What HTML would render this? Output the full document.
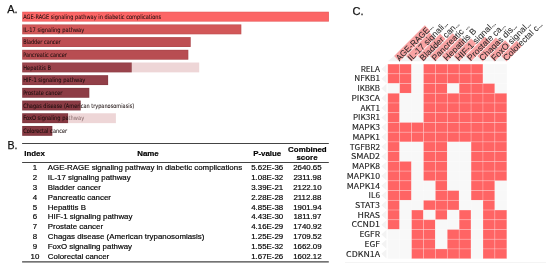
<!DOCTYPE html><html><head><meta charset="utf-8"><style>html,body{margin:0;padding:0;background:#fff;width:550px;height:271px;overflow:hidden}svg{display:block}</style></head><body>
<svg width="550" height="271" viewBox="0 0 550 271">
<g font-family="Liberation Sans, Arial, sans-serif" fill="#111" stroke="#111" stroke-width="0.25">
<text x="7.2" y="13.4" font-size="11">A.</text>
<text x="7.4" y="148.9" font-size="10.6">B.</text>
<text x="352.6" y="14.9" font-size="11">C.</text>
</g>
<rect x="22.2" y="11.75" width="306.70" height="9.85" fill="#fc6565"/>
<rect x="22.55" y="12.10" width="306.00" height="9.15" fill="none" stroke="#000" stroke-opacity="0.08" stroke-width="0.7"/>
<rect x="22.2" y="24.44" width="219.10" height="9.85" fill="#d25758"/>
<rect x="22.55" y="24.79" width="218.40" height="9.15" fill="none" stroke="#000" stroke-opacity="0.08" stroke-width="0.7"/>
<rect x="22.2" y="37.13" width="168.50" height="9.85" fill="#be4f53"/>
<rect x="22.55" y="37.48" width="167.80" height="9.15" fill="none" stroke="#000" stroke-opacity="0.08" stroke-width="0.7"/>
<rect x="22.2" y="49.82" width="166.10" height="9.85" fill="#b84d52"/>
<rect x="22.55" y="50.17" width="165.40" height="9.15" fill="none" stroke="#000" stroke-opacity="0.08" stroke-width="0.7"/>
<rect x="22.2" y="62.51" width="109.60" height="9.85" fill="#9b444c"/>
<rect x="22.55" y="62.86" width="108.90" height="9.15" fill="none" stroke="#000" stroke-opacity="0.08" stroke-width="0.7"/>
<rect x="22.2" y="75.20" width="85.90" height="9.85" fill="#923f48"/>
<rect x="22.55" y="75.55" width="85.20" height="9.15" fill="none" stroke="#000" stroke-opacity="0.08" stroke-width="0.7"/>
<rect x="22.2" y="87.89" width="67.10" height="9.85" fill="#8d3c45"/>
<rect x="22.55" y="88.24" width="66.40" height="9.15" fill="none" stroke="#000" stroke-opacity="0.08" stroke-width="0.7"/>
<rect x="22.2" y="100.58" width="58.50" height="9.85" fill="#8a3b44"/>
<rect x="22.55" y="100.93" width="57.80" height="9.15" fill="none" stroke="#000" stroke-opacity="0.08" stroke-width="0.7"/>
<rect x="22.2" y="113.27" width="45.90" height="9.85" fill="#883a43"/>
<rect x="22.55" y="113.62" width="45.20" height="9.15" fill="none" stroke="#000" stroke-opacity="0.08" stroke-width="0.7"/>
<rect x="22.2" y="125.96" width="30.10" height="9.85" fill="#853942"/>
<rect x="22.55" y="126.31" width="29.40" height="9.15" fill="none" stroke="#000" stroke-opacity="0.08" stroke-width="0.7"/>
<g font-family="DejaVu Sans Condensed, DejaVu Sans, sans-serif" font-size="6.1" fill="#1a0d0d" stroke="#1a0d0d" stroke-width="0.05">
<text x="23.2" y="18.85" textLength="137.9" lengthAdjust="spacingAndGlyphs">AGE-RAGE signaling pathway in diabetic complications</text>
<text x="23.2" y="31.54" textLength="61.1" lengthAdjust="spacingAndGlyphs">IL-17 signaling pathway</text>
<text x="23.2" y="44.23" textLength="37.4" lengthAdjust="spacingAndGlyphs">Bladder cancer</text>
<text x="23.2" y="56.92" textLength="43.7" lengthAdjust="spacingAndGlyphs">Pancreatic cancer</text>
<text x="23.2" y="69.61" textLength="27.9" lengthAdjust="spacingAndGlyphs">Hepatitis B</text>
<text x="23.2" y="82.30" textLength="62.2" lengthAdjust="spacingAndGlyphs">HIF-1 signaling pathway</text>
<text x="23.2" y="94.99" textLength="39.1" lengthAdjust="spacingAndGlyphs">Prostate cancer</text>
<text x="23.2" y="107.68" textLength="111.0" lengthAdjust="spacingAndGlyphs">Chagas disease (American trypanosomiasis)</text>
<text x="23.2" y="120.37" textLength="61.0" lengthAdjust="spacingAndGlyphs">FoxO signaling pathway</text>
<text x="23.2" y="133.06" textLength="43.9" lengthAdjust="spacingAndGlyphs">Colorectal cancer</text>
</g>
<rect x="131.80" y="62.51" width="67.40" height="9.85" fill="#e0b4b6" fill-opacity="0.55"/>
<rect x="68.10" y="113.27" width="47.80" height="9.85" fill="#e0b4b6" fill-opacity="0.55"/>
<g stroke="#444" stroke-width="1.2">
<line x1="22.1" y1="143.5" x2="328.8" y2="143.5"/>
<line x1="22.1" y1="162.5" x2="328.8" y2="162.5"/>
<line x1="22.1" y1="261.9" x2="328.8" y2="261.9"/>
</g>
<g font-family="Liberation Sans, Arial, sans-serif" font-size="7.9" fill="#000" stroke="#000" stroke-width="0.18">
<g font-weight="bold">
<text x="34.6" y="155.5" text-anchor="middle">Index</text>
<text x="148" y="155.5" text-anchor="middle">Name</text>
<text x="267.2" y="155.5" text-anchor="middle">P-value</text>
<text x="307.4" y="151.5" text-anchor="middle">Combined</text>
<text x="307.0" y="160.3" text-anchor="middle">score</text>
</g>
<text x="35" y="170.35" text-anchor="middle">1</text>
<text x="47.8" y="170.35">AGE-RAGE signaling pathway in diabetic complications</text>
<text x="267.2" y="170.35" text-anchor="middle">5.62E-36</text>
<text x="307.4" y="170.35" text-anchor="middle">2640.65</text>
<text x="35" y="180.17" text-anchor="middle">2</text>
<text x="47.8" y="180.17">IL-17 signaling pathway</text>
<text x="267.2" y="180.17" text-anchor="middle">1.08E-32</text>
<text x="307.4" y="180.17" text-anchor="middle">2311.98</text>
<text x="35" y="189.99" text-anchor="middle">3</text>
<text x="47.8" y="189.99">Bladder cancer</text>
<text x="267.2" y="189.99" text-anchor="middle">3.39E-21</text>
<text x="307.4" y="189.99" text-anchor="middle">2122.10</text>
<text x="35" y="199.81" text-anchor="middle">4</text>
<text x="47.8" y="199.81">Pancreatic cancer</text>
<text x="267.2" y="199.81" text-anchor="middle">2.28E-28</text>
<text x="307.4" y="199.81" text-anchor="middle">2112.88</text>
<text x="35" y="209.63" text-anchor="middle">5</text>
<text x="47.8" y="209.63">Hepatitis B</text>
<text x="267.2" y="209.63" text-anchor="middle">4.85E-38</text>
<text x="307.4" y="209.63" text-anchor="middle">1901.94</text>
<text x="35" y="219.45" text-anchor="middle">6</text>
<text x="47.8" y="219.45">HIF-1 signaling pathway</text>
<text x="267.2" y="219.45" text-anchor="middle">4.43E-30</text>
<text x="307.4" y="219.45" text-anchor="middle">1811.97</text>
<text x="35" y="229.27" text-anchor="middle">7</text>
<text x="47.8" y="229.27">Prostate cancer</text>
<text x="267.2" y="229.27" text-anchor="middle">4.16E-29</text>
<text x="307.4" y="229.27" text-anchor="middle">1740.92</text>
<text x="35" y="239.09" text-anchor="middle">8</text>
<text x="47.8" y="239.09">Chagas disease (American trypanosomiasis)</text>
<text x="267.2" y="239.09" text-anchor="middle">1.25E-29</text>
<text x="307.4" y="239.09" text-anchor="middle">1709.52</text>
<text x="35" y="248.91" text-anchor="middle">9</text>
<text x="47.8" y="248.91">FoxO signaling pathway</text>
<text x="267.2" y="248.91" text-anchor="middle">1.55E-32</text>
<text x="307.4" y="248.91" text-anchor="middle">1662.09</text>
<text x="35" y="258.73" text-anchor="middle">10</text>
<text x="47.8" y="258.73">Colorectal cancer</text>
<text x="267.2" y="258.73" text-anchor="middle">1.67E-26</text>
<text x="307.4" y="258.73" text-anchor="middle">1602.12</text>
</g>
<rect x="387.8" y="64.1" width="119.00" height="194.60" fill="#f8f8f8"/>
<g stroke="#fff" stroke-opacity="0.3" stroke-width="0.7">
<rect x="387.80" y="64.10" width="11.90" height="9.73" fill="#ff6464"/>
<rect x="399.70" y="64.10" width="11.90" height="9.73" fill="#ff6464"/>
<rect x="411.60" y="64.10" width="11.90" height="9.73" fill="#f8f8f8"/>
<rect x="423.50" y="64.10" width="11.90" height="9.73" fill="#ff6464"/>
<rect x="435.40" y="64.10" width="11.90" height="9.73" fill="#ff6464"/>
<rect x="447.30" y="64.10" width="11.90" height="9.73" fill="#ff6464"/>
<rect x="459.20" y="64.10" width="11.90" height="9.73" fill="#ff6464"/>
<rect x="471.10" y="64.10" width="11.90" height="9.73" fill="#ff6464"/>
<rect x="483.00" y="64.10" width="11.90" height="9.73" fill="#f8f8f8"/>
<rect x="494.90" y="64.10" width="11.90" height="9.73" fill="#f8f8f8"/>
<rect x="387.80" y="73.83" width="11.90" height="9.73" fill="#ff6464"/>
<rect x="399.70" y="73.83" width="11.90" height="9.73" fill="#ff6464"/>
<rect x="411.60" y="73.83" width="11.90" height="9.73" fill="#f8f8f8"/>
<rect x="423.50" y="73.83" width="11.90" height="9.73" fill="#ff6464"/>
<rect x="435.40" y="73.83" width="11.90" height="9.73" fill="#ff6464"/>
<rect x="447.30" y="73.83" width="11.90" height="9.73" fill="#ff6464"/>
<rect x="459.20" y="73.83" width="11.90" height="9.73" fill="#ff6464"/>
<rect x="471.10" y="73.83" width="11.90" height="9.73" fill="#ff6464"/>
<rect x="483.00" y="73.83" width="11.90" height="9.73" fill="#f8f8f8"/>
<rect x="494.90" y="73.83" width="11.90" height="9.73" fill="#f8f8f8"/>
<rect x="387.80" y="83.56" width="11.90" height="9.73" fill="#f8f8f8"/>
<rect x="399.70" y="83.56" width="11.90" height="9.73" fill="#ff6464"/>
<rect x="411.60" y="83.56" width="11.90" height="9.73" fill="#f8f8f8"/>
<rect x="423.50" y="83.56" width="11.90" height="9.73" fill="#ff6464"/>
<rect x="435.40" y="83.56" width="11.90" height="9.73" fill="#ff6464"/>
<rect x="447.30" y="83.56" width="11.90" height="9.73" fill="#f8f8f8"/>
<rect x="459.20" y="83.56" width="11.90" height="9.73" fill="#ff6464"/>
<rect x="471.10" y="83.56" width="11.90" height="9.73" fill="#ff6464"/>
<rect x="483.00" y="83.56" width="11.90" height="9.73" fill="#ff6464"/>
<rect x="494.90" y="83.56" width="11.90" height="9.73" fill="#f8f8f8"/>
<rect x="387.80" y="93.29" width="11.90" height="9.73" fill="#ff6464"/>
<rect x="399.70" y="93.29" width="11.90" height="9.73" fill="#f8f8f8"/>
<rect x="411.60" y="93.29" width="11.90" height="9.73" fill="#f8f8f8"/>
<rect x="423.50" y="93.29" width="11.90" height="9.73" fill="#ff6464"/>
<rect x="435.40" y="93.29" width="11.90" height="9.73" fill="#ff6464"/>
<rect x="447.30" y="93.29" width="11.90" height="9.73" fill="#ff6464"/>
<rect x="459.20" y="93.29" width="11.90" height="9.73" fill="#ff6464"/>
<rect x="471.10" y="93.29" width="11.90" height="9.73" fill="#ff6464"/>
<rect x="483.00" y="93.29" width="11.90" height="9.73" fill="#ff6464"/>
<rect x="494.90" y="93.29" width="11.90" height="9.73" fill="#ff6464"/>
<rect x="387.80" y="103.02" width="11.90" height="9.73" fill="#ff6464"/>
<rect x="399.70" y="103.02" width="11.90" height="9.73" fill="#f8f8f8"/>
<rect x="411.60" y="103.02" width="11.90" height="9.73" fill="#f8f8f8"/>
<rect x="423.50" y="103.02" width="11.90" height="9.73" fill="#ff6464"/>
<rect x="435.40" y="103.02" width="11.90" height="9.73" fill="#ff6464"/>
<rect x="447.30" y="103.02" width="11.90" height="9.73" fill="#ff6464"/>
<rect x="459.20" y="103.02" width="11.90" height="9.73" fill="#ff6464"/>
<rect x="471.10" y="103.02" width="11.90" height="9.73" fill="#ff6464"/>
<rect x="483.00" y="103.02" width="11.90" height="9.73" fill="#ff6464"/>
<rect x="494.90" y="103.02" width="11.90" height="9.73" fill="#ff6464"/>
<rect x="387.80" y="112.75" width="11.90" height="9.73" fill="#ff6464"/>
<rect x="399.70" y="112.75" width="11.90" height="9.73" fill="#f8f8f8"/>
<rect x="411.60" y="112.75" width="11.90" height="9.73" fill="#f8f8f8"/>
<rect x="423.50" y="112.75" width="11.90" height="9.73" fill="#ff6464"/>
<rect x="435.40" y="112.75" width="11.90" height="9.73" fill="#ff6464"/>
<rect x="447.30" y="112.75" width="11.90" height="9.73" fill="#ff6464"/>
<rect x="459.20" y="112.75" width="11.90" height="9.73" fill="#ff6464"/>
<rect x="471.10" y="112.75" width="11.90" height="9.73" fill="#ff6464"/>
<rect x="483.00" y="112.75" width="11.90" height="9.73" fill="#ff6464"/>
<rect x="494.90" y="112.75" width="11.90" height="9.73" fill="#ff6464"/>
<rect x="387.80" y="122.48" width="11.90" height="9.73" fill="#ff6464"/>
<rect x="399.70" y="122.48" width="11.90" height="9.73" fill="#ff6464"/>
<rect x="411.60" y="122.48" width="11.90" height="9.73" fill="#ff6464"/>
<rect x="423.50" y="122.48" width="11.90" height="9.73" fill="#ff6464"/>
<rect x="435.40" y="122.48" width="11.90" height="9.73" fill="#ff6464"/>
<rect x="447.30" y="122.48" width="11.90" height="9.73" fill="#ff6464"/>
<rect x="459.20" y="122.48" width="11.90" height="9.73" fill="#ff6464"/>
<rect x="471.10" y="122.48" width="11.90" height="9.73" fill="#ff6464"/>
<rect x="483.00" y="122.48" width="11.90" height="9.73" fill="#ff6464"/>
<rect x="494.90" y="122.48" width="11.90" height="9.73" fill="#ff6464"/>
<rect x="387.80" y="132.21" width="11.90" height="9.73" fill="#ff6464"/>
<rect x="399.70" y="132.21" width="11.90" height="9.73" fill="#ff6464"/>
<rect x="411.60" y="132.21" width="11.90" height="9.73" fill="#ff6464"/>
<rect x="423.50" y="132.21" width="11.90" height="9.73" fill="#ff6464"/>
<rect x="435.40" y="132.21" width="11.90" height="9.73" fill="#ff6464"/>
<rect x="447.30" y="132.21" width="11.90" height="9.73" fill="#ff6464"/>
<rect x="459.20" y="132.21" width="11.90" height="9.73" fill="#ff6464"/>
<rect x="471.10" y="132.21" width="11.90" height="9.73" fill="#ff6464"/>
<rect x="483.00" y="132.21" width="11.90" height="9.73" fill="#ff6464"/>
<rect x="494.90" y="132.21" width="11.90" height="9.73" fill="#ff6464"/>
<rect x="387.80" y="141.94" width="11.90" height="9.73" fill="#ff6464"/>
<rect x="399.70" y="141.94" width="11.90" height="9.73" fill="#f8f8f8"/>
<rect x="411.60" y="141.94" width="11.90" height="9.73" fill="#f8f8f8"/>
<rect x="423.50" y="141.94" width="11.90" height="9.73" fill="#ff6464"/>
<rect x="435.40" y="141.94" width="11.90" height="9.73" fill="#ff6464"/>
<rect x="447.30" y="141.94" width="11.90" height="9.73" fill="#f8f8f8"/>
<rect x="459.20" y="141.94" width="11.90" height="9.73" fill="#f8f8f8"/>
<rect x="471.10" y="141.94" width="11.90" height="9.73" fill="#ff6464"/>
<rect x="483.00" y="141.94" width="11.90" height="9.73" fill="#ff6464"/>
<rect x="494.90" y="141.94" width="11.90" height="9.73" fill="#ff6464"/>
<rect x="387.80" y="151.67" width="11.90" height="9.73" fill="#ff6464"/>
<rect x="399.70" y="151.67" width="11.90" height="9.73" fill="#f8f8f8"/>
<rect x="411.60" y="151.67" width="11.90" height="9.73" fill="#f8f8f8"/>
<rect x="423.50" y="151.67" width="11.90" height="9.73" fill="#ff6464"/>
<rect x="435.40" y="151.67" width="11.90" height="9.73" fill="#ff6464"/>
<rect x="447.30" y="151.67" width="11.90" height="9.73" fill="#f8f8f8"/>
<rect x="459.20" y="151.67" width="11.90" height="9.73" fill="#f8f8f8"/>
<rect x="471.10" y="151.67" width="11.90" height="9.73" fill="#ff6464"/>
<rect x="483.00" y="151.67" width="11.90" height="9.73" fill="#ff6464"/>
<rect x="494.90" y="151.67" width="11.90" height="9.73" fill="#ff6464"/>
<rect x="387.80" y="161.40" width="11.90" height="9.73" fill="#ff6464"/>
<rect x="399.70" y="161.40" width="11.90" height="9.73" fill="#ff6464"/>
<rect x="411.60" y="161.40" width="11.90" height="9.73" fill="#f8f8f8"/>
<rect x="423.50" y="161.40" width="11.90" height="9.73" fill="#ff6464"/>
<rect x="435.40" y="161.40" width="11.90" height="9.73" fill="#ff6464"/>
<rect x="447.30" y="161.40" width="11.90" height="9.73" fill="#f8f8f8"/>
<rect x="459.20" y="161.40" width="11.90" height="9.73" fill="#f8f8f8"/>
<rect x="471.10" y="161.40" width="11.90" height="9.73" fill="#ff6464"/>
<rect x="483.00" y="161.40" width="11.90" height="9.73" fill="#ff6464"/>
<rect x="494.90" y="161.40" width="11.90" height="9.73" fill="#ff6464"/>
<rect x="387.80" y="171.13" width="11.90" height="9.73" fill="#ff6464"/>
<rect x="399.70" y="171.13" width="11.90" height="9.73" fill="#ff6464"/>
<rect x="411.60" y="171.13" width="11.90" height="9.73" fill="#f8f8f8"/>
<rect x="423.50" y="171.13" width="11.90" height="9.73" fill="#ff6464"/>
<rect x="435.40" y="171.13" width="11.90" height="9.73" fill="#ff6464"/>
<rect x="447.30" y="171.13" width="11.90" height="9.73" fill="#f8f8f8"/>
<rect x="459.20" y="171.13" width="11.90" height="9.73" fill="#f8f8f8"/>
<rect x="471.10" y="171.13" width="11.90" height="9.73" fill="#ff6464"/>
<rect x="483.00" y="171.13" width="11.90" height="9.73" fill="#ff6464"/>
<rect x="494.90" y="171.13" width="11.90" height="9.73" fill="#ff6464"/>
<rect x="387.80" y="180.86" width="11.90" height="9.73" fill="#ff6464"/>
<rect x="399.70" y="180.86" width="11.90" height="9.73" fill="#ff6464"/>
<rect x="411.60" y="180.86" width="11.90" height="9.73" fill="#f8f8f8"/>
<rect x="423.50" y="180.86" width="11.90" height="9.73" fill="#f8f8f8"/>
<rect x="435.40" y="180.86" width="11.90" height="9.73" fill="#ff6464"/>
<rect x="447.30" y="180.86" width="11.90" height="9.73" fill="#f8f8f8"/>
<rect x="459.20" y="180.86" width="11.90" height="9.73" fill="#f8f8f8"/>
<rect x="471.10" y="180.86" width="11.90" height="9.73" fill="#ff6464"/>
<rect x="483.00" y="180.86" width="11.90" height="9.73" fill="#ff6464"/>
<rect x="494.90" y="180.86" width="11.90" height="9.73" fill="#f8f8f8"/>
<rect x="387.80" y="190.59" width="11.90" height="9.73" fill="#ff6464"/>
<rect x="399.70" y="190.59" width="11.90" height="9.73" fill="#ff6464"/>
<rect x="411.60" y="190.59" width="11.90" height="9.73" fill="#f8f8f8"/>
<rect x="423.50" y="190.59" width="11.90" height="9.73" fill="#f8f8f8"/>
<rect x="435.40" y="190.59" width="11.90" height="9.73" fill="#ff6464"/>
<rect x="447.30" y="190.59" width="11.90" height="9.73" fill="#ff6464"/>
<rect x="459.20" y="190.59" width="11.90" height="9.73" fill="#f8f8f8"/>
<rect x="471.10" y="190.59" width="11.90" height="9.73" fill="#ff6464"/>
<rect x="483.00" y="190.59" width="11.90" height="9.73" fill="#ff6464"/>
<rect x="494.90" y="190.59" width="11.90" height="9.73" fill="#f8f8f8"/>
<rect x="387.80" y="200.32" width="11.90" height="9.73" fill="#ff6464"/>
<rect x="399.70" y="200.32" width="11.90" height="9.73" fill="#f8f8f8"/>
<rect x="411.60" y="200.32" width="11.90" height="9.73" fill="#f8f8f8"/>
<rect x="423.50" y="200.32" width="11.90" height="9.73" fill="#ff6464"/>
<rect x="435.40" y="200.32" width="11.90" height="9.73" fill="#ff6464"/>
<rect x="447.30" y="200.32" width="11.90" height="9.73" fill="#ff6464"/>
<rect x="459.20" y="200.32" width="11.90" height="9.73" fill="#f8f8f8"/>
<rect x="471.10" y="200.32" width="11.90" height="9.73" fill="#f8f8f8"/>
<rect x="483.00" y="200.32" width="11.90" height="9.73" fill="#ff6464"/>
<rect x="494.90" y="200.32" width="11.90" height="9.73" fill="#f8f8f8"/>
<rect x="387.80" y="210.05" width="11.90" height="9.73" fill="#ff6464"/>
<rect x="399.70" y="210.05" width="11.90" height="9.73" fill="#f8f8f8"/>
<rect x="411.60" y="210.05" width="11.90" height="9.73" fill="#ff6464"/>
<rect x="423.50" y="210.05" width="11.90" height="9.73" fill="#f8f8f8"/>
<rect x="435.40" y="210.05" width="11.90" height="9.73" fill="#ff6464"/>
<rect x="447.30" y="210.05" width="11.90" height="9.73" fill="#f8f8f8"/>
<rect x="459.20" y="210.05" width="11.90" height="9.73" fill="#ff6464"/>
<rect x="471.10" y="210.05" width="11.90" height="9.73" fill="#f8f8f8"/>
<rect x="483.00" y="210.05" width="11.90" height="9.73" fill="#ff6464"/>
<rect x="494.90" y="210.05" width="11.90" height="9.73" fill="#ff6464"/>
<rect x="387.80" y="219.78" width="11.90" height="9.73" fill="#ff6464"/>
<rect x="399.70" y="219.78" width="11.90" height="9.73" fill="#f8f8f8"/>
<rect x="411.60" y="219.78" width="11.90" height="9.73" fill="#ff6464"/>
<rect x="423.50" y="219.78" width="11.90" height="9.73" fill="#ff6464"/>
<rect x="435.40" y="219.78" width="11.90" height="9.73" fill="#f8f8f8"/>
<rect x="447.30" y="219.78" width="11.90" height="9.73" fill="#f8f8f8"/>
<rect x="459.20" y="219.78" width="11.90" height="9.73" fill="#ff6464"/>
<rect x="471.10" y="219.78" width="11.90" height="9.73" fill="#f8f8f8"/>
<rect x="483.00" y="219.78" width="11.90" height="9.73" fill="#ff6464"/>
<rect x="494.90" y="219.78" width="11.90" height="9.73" fill="#ff6464"/>
<rect x="387.80" y="229.51" width="11.90" height="9.73" fill="#f8f8f8"/>
<rect x="399.70" y="229.51" width="11.90" height="9.73" fill="#f8f8f8"/>
<rect x="411.60" y="229.51" width="11.90" height="9.73" fill="#ff6464"/>
<rect x="423.50" y="229.51" width="11.90" height="9.73" fill="#ff6464"/>
<rect x="435.40" y="229.51" width="11.90" height="9.73" fill="#f8f8f8"/>
<rect x="447.30" y="229.51" width="11.90" height="9.73" fill="#ff6464"/>
<rect x="459.20" y="229.51" width="11.90" height="9.73" fill="#ff6464"/>
<rect x="471.10" y="229.51" width="11.90" height="9.73" fill="#f8f8f8"/>
<rect x="483.00" y="229.51" width="11.90" height="9.73" fill="#ff6464"/>
<rect x="494.90" y="229.51" width="11.90" height="9.73" fill="#ff6464"/>
<rect x="387.80" y="239.24" width="11.90" height="9.73" fill="#f8f8f8"/>
<rect x="399.70" y="239.24" width="11.90" height="9.73" fill="#f8f8f8"/>
<rect x="411.60" y="239.24" width="11.90" height="9.73" fill="#ff6464"/>
<rect x="423.50" y="239.24" width="11.90" height="9.73" fill="#ff6464"/>
<rect x="435.40" y="239.24" width="11.90" height="9.73" fill="#f8f8f8"/>
<rect x="447.30" y="239.24" width="11.90" height="9.73" fill="#ff6464"/>
<rect x="459.20" y="239.24" width="11.90" height="9.73" fill="#ff6464"/>
<rect x="471.10" y="239.24" width="11.90" height="9.73" fill="#f8f8f8"/>
<rect x="483.00" y="239.24" width="11.90" height="9.73" fill="#ff6464"/>
<rect x="494.90" y="239.24" width="11.90" height="9.73" fill="#ff6464"/>
<rect x="387.80" y="248.97" width="11.90" height="9.73" fill="#f8f8f8"/>
<rect x="399.70" y="248.97" width="11.90" height="9.73" fill="#f8f8f8"/>
<rect x="411.60" y="248.97" width="11.90" height="9.73" fill="#ff6464"/>
<rect x="423.50" y="248.97" width="11.90" height="9.73" fill="#ff6464"/>
<rect x="435.40" y="248.97" width="11.90" height="9.73" fill="#ff6464"/>
<rect x="447.30" y="248.97" width="11.90" height="9.73" fill="#ff6464"/>
<rect x="459.20" y="248.97" width="11.90" height="9.73" fill="#ff6464"/>
<rect x="471.10" y="248.97" width="11.90" height="9.73" fill="#f8f8f8"/>
<rect x="483.00" y="248.97" width="11.90" height="9.73" fill="#ff6464"/>
<rect x="494.90" y="248.97" width="11.90" height="9.73" fill="#ff6464"/>
</g>
<g fill="#f3f3f3">
<path d="M386.50,64.40 L381.40,68.96 L386.50,73.53 Z"/>
<path d="M386.50,74.13 L381.40,78.69 L386.50,83.26 Z"/>
<path d="M386.50,83.86 L381.40,88.42 L386.50,92.99 Z"/>
<path d="M386.50,93.59 L381.40,98.16 L386.50,102.72 Z"/>
<path d="M386.50,103.32 L381.40,107.88 L386.50,112.45 Z"/>
<path d="M386.50,113.05 L381.40,117.61 L386.50,122.18 Z"/>
<path d="M386.50,122.78 L381.40,127.34 L386.50,131.91 Z"/>
<path d="M386.50,132.51 L381.40,137.07 L386.50,141.64 Z"/>
<path d="M386.50,142.24 L381.40,146.81 L386.50,151.37 Z"/>
<path d="M386.50,151.97 L381.40,156.53 L386.50,161.10 Z"/>
<path d="M386.50,161.70 L381.40,166.26 L386.50,170.83 Z"/>
<path d="M386.50,171.43 L381.40,176.00 L386.50,180.56 Z"/>
<path d="M386.50,181.16 L381.40,185.72 L386.50,190.29 Z"/>
<path d="M386.50,190.89 L381.40,195.46 L386.50,200.02 Z"/>
<path d="M386.50,200.62 L381.40,205.19 L386.50,209.75 Z"/>
<path d="M386.50,210.35 L381.40,214.91 L386.50,219.48 Z"/>
<path d="M386.50,220.08 L381.40,224.65 L386.50,229.21 Z"/>
<path d="M386.50,229.81 L381.40,234.38 L386.50,238.94 Z"/>
<path d="M386.50,239.54 L381.40,244.10 L386.50,248.67 Z"/>
<path d="M386.50,249.27 L381.40,253.84 L386.50,258.40 Z"/>
</g>
<g font-family="Noto Sans CJK SC, sans-serif" font-size="7.7" fill="#222" stroke="#222" stroke-width="0.12" text-anchor="end">
<text x="380.0" y="71.76" textLength="19.3" lengthAdjust="spacingAndGlyphs">RELA</text>
<text x="380.0" y="81.49" textLength="25.7" lengthAdjust="spacingAndGlyphs">NFKB1</text>
<text x="380.0" y="91.22" textLength="22.6" lengthAdjust="spacingAndGlyphs">IKBKB</text>
<text x="380.0" y="100.95" textLength="28.6" lengthAdjust="spacingAndGlyphs">PIK3CA</text>
<text x="380.0" y="110.68" textLength="19.6" lengthAdjust="spacingAndGlyphs">AKT1</text>
<text x="380.0" y="120.41" textLength="27.1" lengthAdjust="spacingAndGlyphs">PIK3R1</text>
<text x="380.0" y="130.15" textLength="28.0" lengthAdjust="spacingAndGlyphs">MAPK3</text>
<text x="380.0" y="139.88" textLength="27.5" lengthAdjust="spacingAndGlyphs">MAPK1</text>
<text x="380.0" y="149.61" textLength="30.2" lengthAdjust="spacingAndGlyphs">TGFBR2</text>
<text x="380.0" y="159.34" textLength="29.1" lengthAdjust="spacingAndGlyphs">SMAD2</text>
<text x="380.0" y="169.06" textLength="28.0" lengthAdjust="spacingAndGlyphs">MAPK8</text>
<text x="380.0" y="178.80" textLength="33.2" lengthAdjust="spacingAndGlyphs">MAPK10</text>
<text x="380.0" y="188.53" textLength="33.2" lengthAdjust="spacingAndGlyphs">MAPK14</text>
<text x="380.0" y="198.26" textLength="11.4" lengthAdjust="spacingAndGlyphs">IL6</text>
<text x="380.0" y="207.99" textLength="24.9" lengthAdjust="spacingAndGlyphs">STAT3</text>
<text x="380.0" y="217.72" textLength="22.5" lengthAdjust="spacingAndGlyphs">HRAS</text>
<text x="380.0" y="227.45" textLength="28.4" lengthAdjust="spacingAndGlyphs">CCND1</text>
<text x="380.0" y="237.18" textLength="20.6" lengthAdjust="spacingAndGlyphs">EGFR</text>
<text x="380.0" y="246.91" textLength="15.4" lengthAdjust="spacingAndGlyphs">EGF</text>
<text x="380.0" y="256.63" textLength="33.9" lengthAdjust="spacingAndGlyphs">CDKN1A</text>
</g>
<g fill="#f2f2f2">
<path d="M387.80,61.30 L394.09,56.09 L398.90,61.30 Z"/>
<path d="M399.70,61.30 L405.99,56.09 L410.80,61.30 Z"/>
<path d="M411.60,61.30 L417.89,56.09 L422.70,61.30 Z"/>
<path d="M423.50,61.30 L429.79,56.09 L434.60,61.30 Z"/>
<path d="M435.40,61.30 L441.69,56.09 L446.50,61.30 Z"/>
<path d="M447.30,61.30 L453.59,56.09 L458.40,61.30 Z"/>
<path d="M459.20,61.30 L465.49,56.09 L470.30,61.30 Z"/>
<path d="M471.10,61.30 L477.39,56.09 L482.20,61.30 Z"/>
<path d="M483.00,61.30 L489.29,56.09 L494.10,61.30 Z"/>
<path d="M494.90,61.30 L501.19,56.09 L506.00,61.30 Z"/>
</g>
<g transform="translate(398.90,60.90) rotate(-45)">
<rect x="0" y="-6.8" width="43.5" height="7.5" fill="#f9a3a3"/>
<text x="0" y="0.8" font-family="Liberation Sans, sans-serif" font-size="8.75" fill="#2a2a2a" stroke="#2a2a2a" stroke-width="0.06"><tspan textLength="43.4" lengthAdjust="spacingAndGlyphs">AGE-RAGE</tspan><tspan letter-spacing="-0.8">...</tspan></text>
</g>
<g transform="translate(410.80,60.90) rotate(-45)">
<rect x="0" y="-6.8" width="33.2" height="7.5" fill="#f9a3a3"/>
<text x="0" y="0.8" font-family="Liberation Sans, sans-serif" font-size="8.75" fill="#2a2a2a" stroke="#2a2a2a" stroke-width="0.06">IL-17 signali<tspan letter-spacing="-0.8">...</tspan></text>
</g>
<g transform="translate(422.70,60.90) rotate(-45)">
<rect x="0" y="-6.8" width="31.5" height="7.5" fill="#f9a3a3"/>
<text x="0" y="0.8" font-family="Liberation Sans, sans-serif" font-size="8.75" fill="#2a2a2a" stroke="#2a2a2a" stroke-width="0.06">Bladder can<tspan letter-spacing="-0.8">...</tspan></text>
</g>
<g transform="translate(434.60,60.90) rotate(-45)">
<rect x="0" y="-6.8" width="32.3" height="7.5" fill="#f9a3a3"/>
<text x="0" y="0.8" font-family="Liberation Sans, sans-serif" font-size="8.75" fill="#2a2a2a" stroke="#2a2a2a" stroke-width="0.06">Pancreatic <tspan letter-spacing="-0.8">...</tspan></text>
</g>
<g transform="translate(446.50,60.90) rotate(-45)">
<rect x="0" y="-6.8" width="26.4" height="7.5" fill="#f9a3a3"/>
<text x="0" y="0.8" font-family="Liberation Sans, sans-serif" font-size="8.75" fill="#2a2a2a" stroke="#2a2a2a" stroke-width="0.06">Hepatitis B</text>
</g>
<g transform="translate(458.40,60.90) rotate(-45)">
<rect x="0" y="-6.8" width="24.8" height="7.5" fill="#f9a3a3"/>
<text x="0" y="0.8" font-family="Liberation Sans, sans-serif" font-size="8.75" fill="#2a2a2a" stroke="#2a2a2a" stroke-width="0.06">HIF-1 signal<tspan letter-spacing="-0.8">...</tspan></text>
</g>
<g transform="translate(470.30,60.90) rotate(-45)">
<rect x="0" y="-6.8" width="27.4" height="7.5" fill="#f9a3a3"/>
<text x="0" y="0.8" font-family="Liberation Sans, sans-serif" font-size="8.75" fill="#2a2a2a" stroke="#2a2a2a" stroke-width="0.06">Prostate ca<tspan letter-spacing="-0.8">...</tspan></text>
</g>
<g transform="translate(482.20,60.90) rotate(-45)">
<rect x="0" y="-6.8" width="26.2" height="7.5" fill="#f9a3a3"/>
<text x="0" y="0.8" font-family="Liberation Sans, sans-serif" font-size="8.75" fill="#2a2a2a" stroke="#2a2a2a" stroke-width="0.06">Chagas dis<tspan letter-spacing="-0.8">...</tspan></text>
</g>
<g transform="translate(494.10,60.90) rotate(-45)">
<rect x="0" y="-6.8" width="22.3" height="7.5" fill="#f9a3a3"/>
<text x="0" y="0.8" font-family="Liberation Sans, sans-serif" font-size="8.75" fill="#2a2a2a" stroke="#2a2a2a" stroke-width="0.06">FoxO signal<tspan letter-spacing="-0.8">...</tspan></text>
</g>
<g transform="translate(506.00,60.90) rotate(-45)">
<rect x="0" y="-6.8" width="21.8" height="7.5" fill="#f9a3a3"/>
<text x="0" y="0.8" font-family="Liberation Sans, sans-serif" font-size="8.75" fill="#2a2a2a" stroke="#2a2a2a" stroke-width="0.06">Colorectal c<tspan letter-spacing="-0.8">...</tspan></text>
</g>
<line x1="345" y1="262.5" x2="546" y2="262.5" stroke="#f1f1f1" stroke-width="0.8"/>
</svg></body></html>
